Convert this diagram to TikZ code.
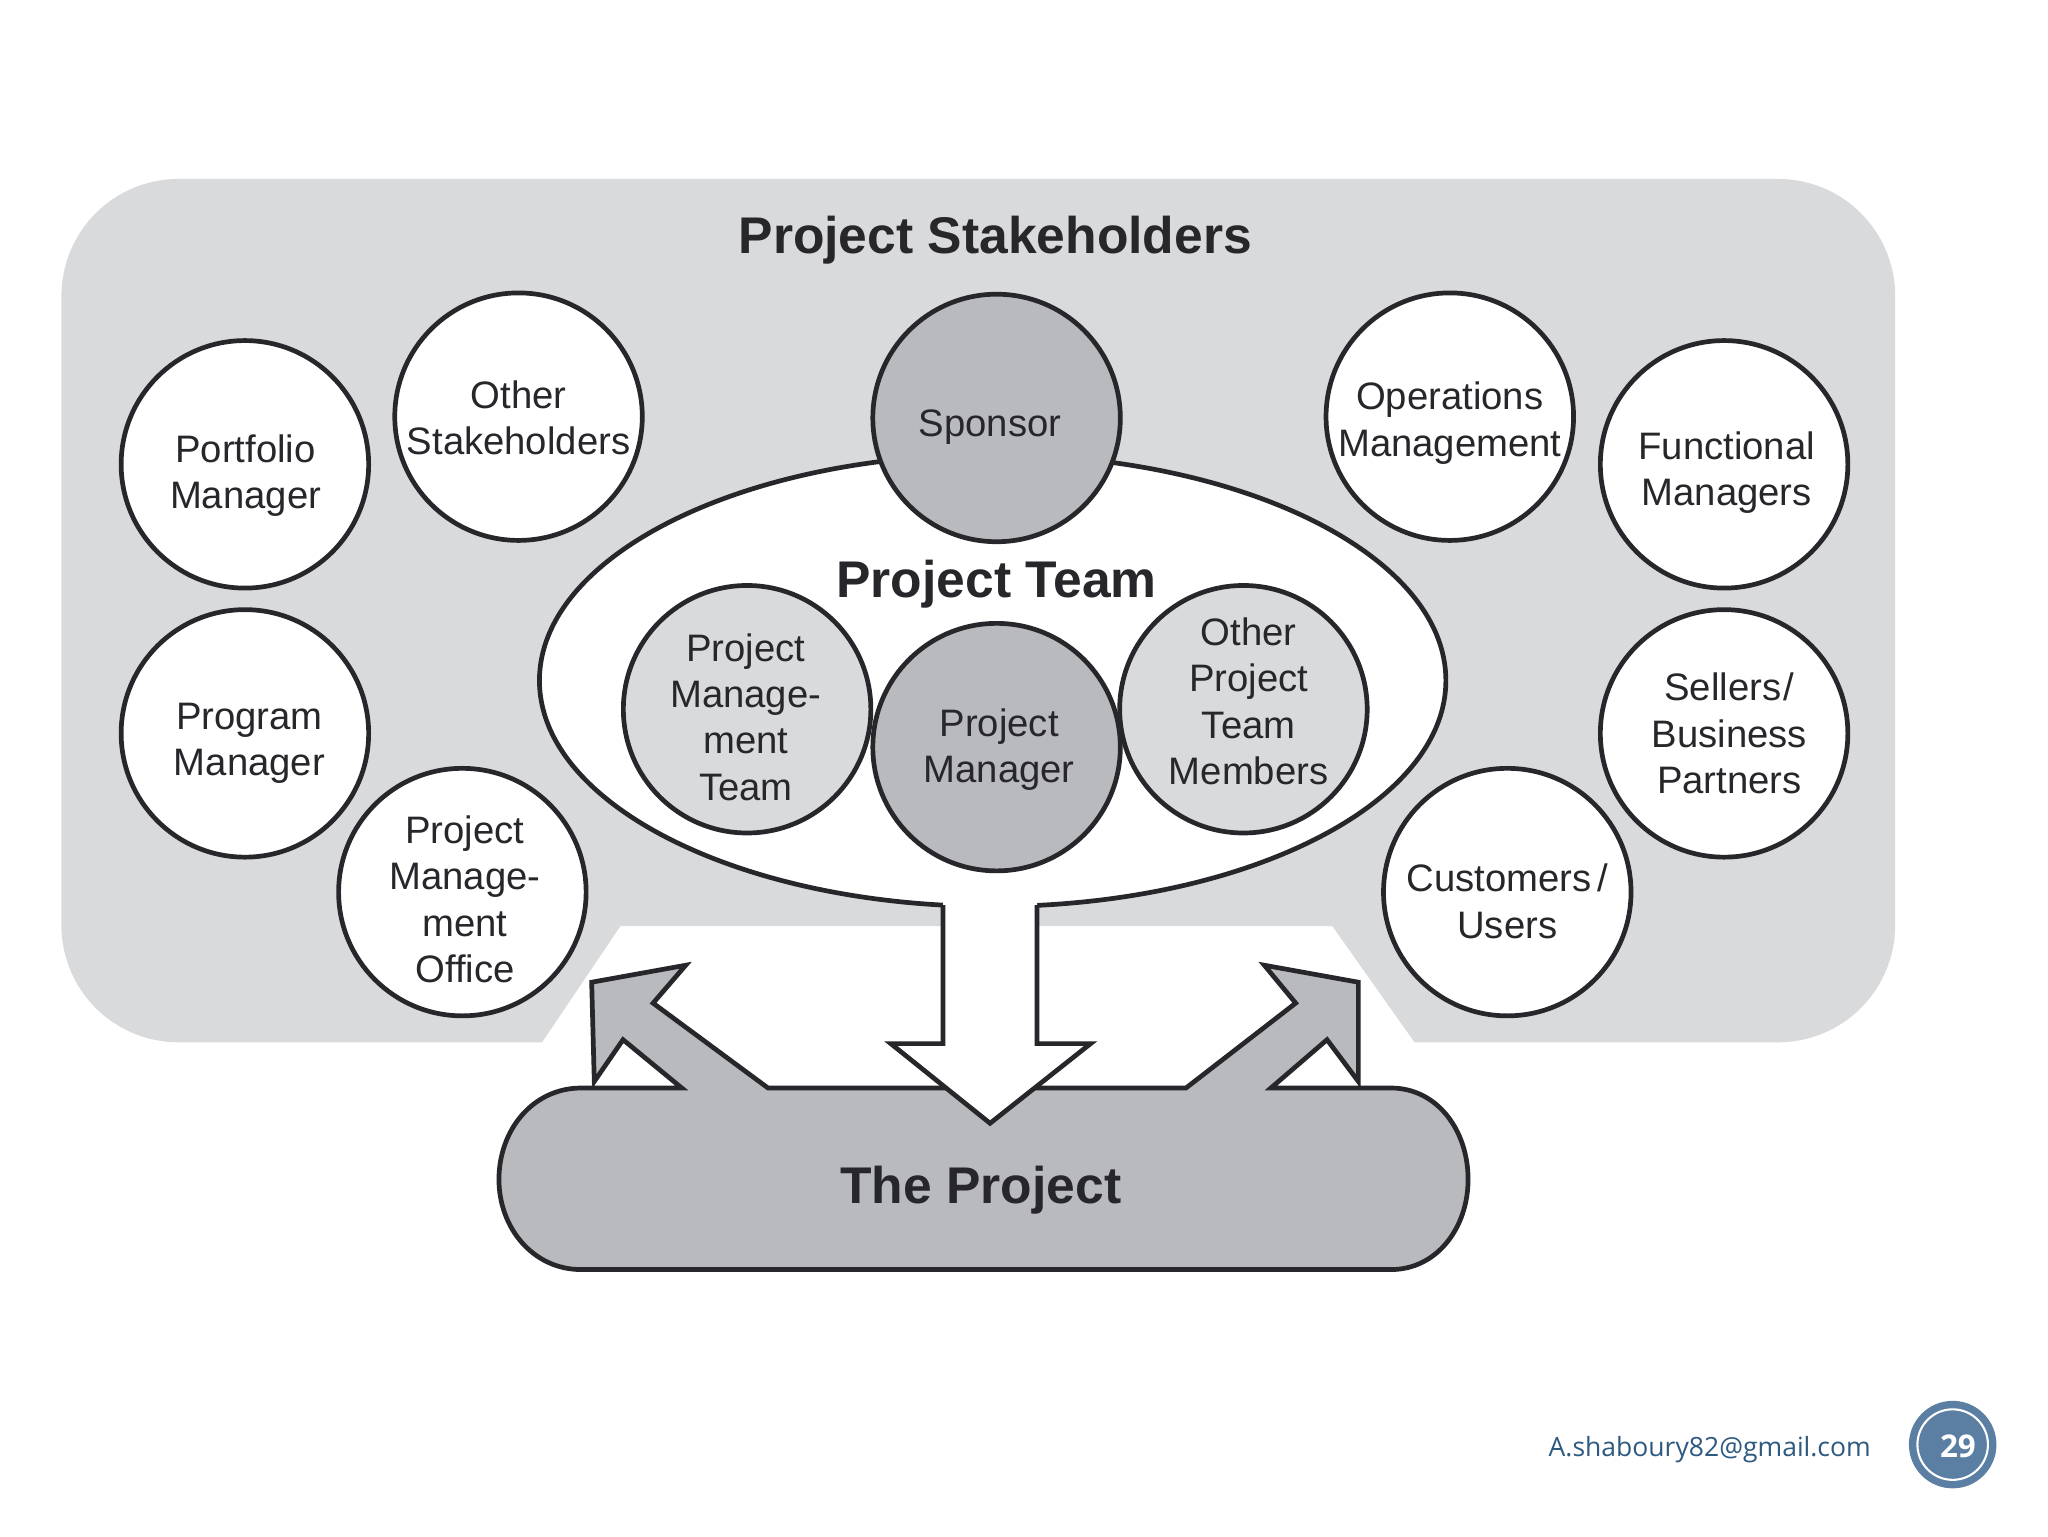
\documentclass[tikz,border=0pt]{standalone}
\usepackage{fontspec}
\usetikzlibrary{shapes.geometric}
\setmainfont{Liberation Sans}
\newfontfamily\mailfont{Open Sans}
\definecolor{ink}{HTML}{26262B}
\definecolor{bgfill}{HTML}{D9DADC}
\definecolor{darkfill}{HTML}{B9BABD}
\definecolor{mailblue}{HTML}{2F5A80}
\definecolor{badge}{HTML}{5B7FA2}
\tikzset{
  x=1pt,y=-1pt,
  circ/.style={circle,draw=ink,line width=3.6pt,minimum size=189.5pt,inner sep=0pt,fill=white},
  circlight/.style={circ,fill=bgfill},
  circdark/.style={circ,fill=darkfill},
  lab/.style={align=center,text=ink,font=\fontsize{29.3}{35.5}\selectfont,inner sep=0pt},
  ttl/.style={align=center,text=ink,font=\fontsize{39.5}{44}\selectfont\bfseries,inner sep=0pt},
  outline/.style={draw=ink,line width=3.6pt,line join=miter,miter limit=8},
}
\begin{document}
\begin{tikzpicture}
\useasboundingbox (0,0) rectangle (1568,1176);
\fill[white] (0,0) rectangle (1568,1176);
% grey stakeholders area
\fill[bgfill] (1083,798) -- (1361,798) .. controls (1411,798) and (1451,758) .. (1451,708)
  -- (1451,227) .. controls (1451,177) and (1411,137) .. (1361,137)
  -- (137,137) .. controls (87,137) and (47,177) .. (47,227)
  -- (47,708) .. controls (47,758) and (87,798) .. (137,798)
  -- (415,798) -- (475,709) -- (1020,709) -- cycle;
% the project
\draw[outline,fill=darkfill] (445,833) -- (522,833) -- (477,796) -- (455,828) -- (453,752) -- (525,739) -- (500,768) -- (588,833)
  -- (908,833) -- (992,768) -- (968,739) -- (1040,752) -- (1040,828) -- (1016,796) -- (973,833)
  -- (1065,833) .. controls (1100,833) and (1124,865) .. (1124,903)
  .. controls (1124,940) and (1100,972) .. (1065,972)
  -- (445,972) .. controls (408,972) and (382,940) .. (382,903)
  .. controls (382,865) and (408,833) .. (445,833) -- cycle;
% project team ellipse with down arrow
\node[ellipse,draw=ink,line width=3.6pt,fill=white,minimum width=694pt,minimum height=346pt,inner sep=0pt] (team) at (760,521) {};
\fill[white] (722,680) -- (722,799) -- (682,799) -- (758,860) -- (835,799) -- (794,799) -- (794,680) -- cycle;
\draw[outline] (722,693) -- (722,799) -- (682,799) -- (758,860) -- (835,799) -- (794,799) -- (794,693);
% circles
\node[circ] (portfolio) at (187.5,355.5) {};
\node[circ] (other) at (397,319) {};
\node[circ] (program) at (187.5,561.5) {};
\node[circ] (pmo) at (354,683) {};
\node[circ] (ops) at (1110,319) {};
\node[circ] (functional) at (1320,355.5) {};
\node[circ] (sellers) at (1320,561.5) {};
\node[circ] (customers) at (1154,683) {};
\node[circdark] (sponsor) at (763,320) {};
\node[circlight] (pmteam) at (572,543) {};
\node[circlight] (members) at (952,543) {};
\node[circdark] (pm) at (763,572) {};
% labels
\node[lab] (tportfolio) at (188,364) {Portfolio\\Manager};
\node[lab] (tother) at (397,320) {Other\\Stakeholders};
\node[lab] (tprogram) at (191,569) {Program\\Manager};
\node[lab] (tpmo) at (356,688.5) {Project\\Manage-\\ment\\Office};
\node[lab] (tops) at (1110,324) {Operations\\Management};
\node[lab] (tfunctional) at (1322,362) {Functional\\Managers};
\node[lab] (tsellers) at (1324,561.5) {Sellers\kern2pt/\\Business\\Partners};
\node[lab] (tcustomers) at (1154,690) {Customers\kern4pt/\\Users};
\node[lab] (tsponsor) at (758,327) {Sponsor};
\node[lab] (tpmteam) at (571,549) {Project\\Manage-\\ment\\Team};
\node[lab] (tmembers) at (956,537) {Other\\Project\\Team\\Members};
\node[lab] (tpm) at (765,574) {Project\\Manager};
\node[ttl] (tstake) at (762,184) {Project Stakeholders};
\node[ttl] (tteam) at (763,447) {Project Team};
\node[ttl] (tproject) at (751,911) {The Project};
% footer
\node[inner sep=0pt,text=mailblue,font=\mailfont\fontsize{20.3}{24}\selectfont] (mail) at (1309,1110) {A.shaboury82@gmail.com};
\node[circle,fill=badge,minimum size=67pt,inner sep=0pt] (badgeouter) at (1495,1106) {};
\node[circle,draw=white,line width=1.6pt,minimum size=54pt,inner sep=0pt] (badgeinner) at (1495,1106) {};
\node[inner sep=0pt,text=white,font=\mailfont\fontsize{24}{28}\selectfont\bfseries] (badgenum) at (1499,1107) {29};
\end{tikzpicture}
\end{document}
